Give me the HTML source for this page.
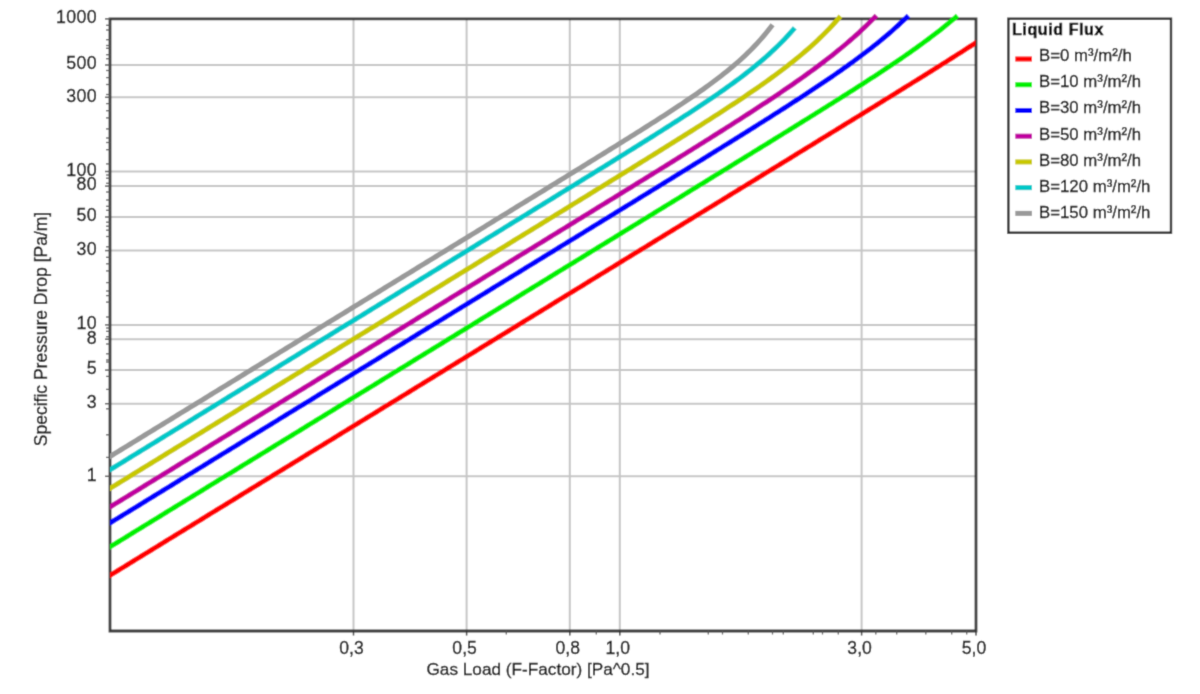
<!DOCTYPE html><html><head><meta charset="utf-8"><style>html,body{margin:0;padding:0;background:#fff;width:1200px;height:694px;overflow:hidden}svg{display:block}text{font-family:"Liberation Sans",sans-serif;stroke:#000;stroke-width:0.3px}</style></head><body>
<svg width="1200" height="694" viewBox="0 0 1200 694">
<defs><filter id="bl" x="0" y="0" width="1200" height="694" filterUnits="userSpaceOnUse"><feConvolveMatrix order="3" kernelMatrix="0.0225 0.1050 0.0225 0.1050 0.4900 0.1050 0.0225 0.1050 0.0225" edgeMode="duplicate"/></filter></defs><g filter="url(#bl)">
<rect x="0" y="0" width="1200" height="694" fill="#fff"/>
<line x1="110.0" y1="65.00" x2="976.0" y2="65.00" stroke="#c6c6c6" stroke-width="2.0"/>
<line x1="110.0" y1="97.30" x2="976.0" y2="97.30" stroke="#c6c6c6" stroke-width="2.0"/>
<line x1="110.0" y1="171.50" x2="976.0" y2="171.50" stroke="#c6c6c6" stroke-width="2.0"/>
<line x1="110.0" y1="186.10" x2="976.0" y2="186.10" stroke="#c6c6c6" stroke-width="2.0"/>
<line x1="110.0" y1="217.00" x2="976.0" y2="217.00" stroke="#c6c6c6" stroke-width="2.0"/>
<line x1="110.0" y1="250.60" x2="976.0" y2="250.60" stroke="#c6c6c6" stroke-width="2.0"/>
<line x1="110.0" y1="324.90" x2="976.0" y2="324.90" stroke="#c6c6c6" stroke-width="2.0"/>
<line x1="110.0" y1="339.20" x2="976.0" y2="339.20" stroke="#c6c6c6" stroke-width="2.0"/>
<line x1="110.0" y1="370.10" x2="976.0" y2="370.10" stroke="#c6c6c6" stroke-width="2.0"/>
<line x1="110.0" y1="403.70" x2="976.0" y2="403.70" stroke="#c6c6c6" stroke-width="2.0"/>
<line x1="110.0" y1="476.30" x2="976.0" y2="476.30" stroke="#c6c6c6" stroke-width="2.0"/>
<line x1="353.50" y1="18.9" x2="353.50" y2="631.0" stroke="#c6c6c6" stroke-width="2.0"/>
<line x1="466.60" y1="18.9" x2="466.60" y2="631.0" stroke="#c6c6c6" stroke-width="2.0"/>
<line x1="569.80" y1="18.9" x2="569.80" y2="631.0" stroke="#c6c6c6" stroke-width="2.0"/>
<line x1="619.80" y1="18.9" x2="619.80" y2="631.0" stroke="#c6c6c6" stroke-width="2.0"/>
<line x1="861.60" y1="18.9" x2="861.60" y2="631.0" stroke="#c6c6c6" stroke-width="2.0"/>
<path d="M110.0 18.9 H976.0 V631.0 H110.0 Z" fill="none" stroke="#383838" stroke-width="2.8"/>
<line x1="105.0" y1="18.90" x2="110.0" y2="18.90" stroke="#5a5a5a" stroke-width="1.5"/>
<line x1="105.0" y1="65.00" x2="110.0" y2="65.00" stroke="#5a5a5a" stroke-width="1.5"/>
<line x1="105.0" y1="97.30" x2="110.0" y2="97.30" stroke="#5a5a5a" stroke-width="1.5"/>
<line x1="105.0" y1="171.50" x2="110.0" y2="171.50" stroke="#5a5a5a" stroke-width="1.5"/>
<line x1="105.0" y1="186.10" x2="110.0" y2="186.10" stroke="#5a5a5a" stroke-width="1.5"/>
<line x1="105.0" y1="217.00" x2="110.0" y2="217.00" stroke="#5a5a5a" stroke-width="1.5"/>
<line x1="105.0" y1="250.60" x2="110.0" y2="250.60" stroke="#5a5a5a" stroke-width="1.5"/>
<line x1="105.0" y1="324.90" x2="110.0" y2="324.90" stroke="#5a5a5a" stroke-width="1.5"/>
<line x1="105.0" y1="339.20" x2="110.0" y2="339.20" stroke="#5a5a5a" stroke-width="1.5"/>
<line x1="105.0" y1="370.10" x2="110.0" y2="370.10" stroke="#5a5a5a" stroke-width="1.5"/>
<line x1="105.0" y1="403.70" x2="110.0" y2="403.70" stroke="#5a5a5a" stroke-width="1.5"/>
<line x1="105.0" y1="476.30" x2="110.0" y2="476.30" stroke="#5a5a5a" stroke-width="1.5"/>
<line x1="106.0" y1="25.30" x2="110.0" y2="25.30" stroke="#5a5a5a" stroke-width="1.3"/>
<line x1="106.0" y1="30.00" x2="110.0" y2="30.00" stroke="#5a5a5a" stroke-width="1.3"/>
<line x1="106.0" y1="39.70" x2="110.0" y2="39.70" stroke="#5a5a5a" stroke-width="1.3"/>
<line x1="106.0" y1="45.50" x2="110.0" y2="45.50" stroke="#5a5a5a" stroke-width="1.3"/>
<line x1="106.0" y1="48.30" x2="110.0" y2="48.30" stroke="#5a5a5a" stroke-width="1.3"/>
<line x1="106.0" y1="54.70" x2="110.0" y2="54.70" stroke="#5a5a5a" stroke-width="1.3"/>
<line x1="106.0" y1="58.70" x2="110.0" y2="58.70" stroke="#5a5a5a" stroke-width="1.3"/>
<line x1="106.0" y1="70.50" x2="110.0" y2="70.50" stroke="#5a5a5a" stroke-width="1.3"/>
<line x1="106.0" y1="77.60" x2="110.0" y2="77.60" stroke="#5a5a5a" stroke-width="1.3"/>
<line x1="106.0" y1="84.50" x2="110.0" y2="84.50" stroke="#5a5a5a" stroke-width="1.3"/>
<line x1="106.0" y1="94.50" x2="110.0" y2="94.50" stroke="#5a5a5a" stroke-width="1.3"/>
<line x1="106.0" y1="103.60" x2="110.0" y2="103.60" stroke="#5a5a5a" stroke-width="1.3"/>
<line x1="106.0" y1="110.70" x2="110.0" y2="110.70" stroke="#5a5a5a" stroke-width="1.3"/>
<line x1="106.0" y1="117.90" x2="110.0" y2="117.90" stroke="#5a5a5a" stroke-width="1.3"/>
<line x1="106.0" y1="128.90" x2="110.0" y2="128.90" stroke="#5a5a5a" stroke-width="1.3"/>
<line x1="106.0" y1="138.00" x2="110.0" y2="138.00" stroke="#5a5a5a" stroke-width="1.3"/>
<line x1="106.0" y1="142.50" x2="110.0" y2="142.50" stroke="#5a5a5a" stroke-width="1.3"/>
<line x1="106.0" y1="149.70" x2="110.0" y2="149.70" stroke="#5a5a5a" stroke-width="1.3"/>
<line x1="106.0" y1="163.90" x2="110.0" y2="163.90" stroke="#5a5a5a" stroke-width="1.3"/>
<line x1="106.0" y1="175.00" x2="110.0" y2="175.00" stroke="#5a5a5a" stroke-width="1.3"/>
<line x1="106.0" y1="178.20" x2="110.0" y2="178.20" stroke="#5a5a5a" stroke-width="1.3"/>
<line x1="106.0" y1="183.30" x2="110.0" y2="183.30" stroke="#5a5a5a" stroke-width="1.3"/>
<line x1="106.0" y1="192.00" x2="110.0" y2="192.00" stroke="#5a5a5a" stroke-width="1.3"/>
<line x1="106.0" y1="200.00" x2="110.0" y2="200.00" stroke="#5a5a5a" stroke-width="1.3"/>
<line x1="106.0" y1="206.30" x2="110.0" y2="206.30" stroke="#5a5a5a" stroke-width="1.3"/>
<line x1="106.0" y1="210.30" x2="110.0" y2="210.30" stroke="#5a5a5a" stroke-width="1.3"/>
<line x1="106.0" y1="222.20" x2="110.0" y2="222.20" stroke="#5a5a5a" stroke-width="1.3"/>
<line x1="106.0" y1="226.20" x2="110.0" y2="226.20" stroke="#5a5a5a" stroke-width="1.3"/>
<line x1="106.0" y1="230.20" x2="110.0" y2="230.20" stroke="#5a5a5a" stroke-width="1.3"/>
<line x1="106.0" y1="236.50" x2="110.0" y2="236.50" stroke="#5a5a5a" stroke-width="1.3"/>
<line x1="106.0" y1="246.80" x2="110.0" y2="246.80" stroke="#5a5a5a" stroke-width="1.3"/>
<line x1="106.0" y1="257.30" x2="110.0" y2="257.30" stroke="#5a5a5a" stroke-width="1.3"/>
<line x1="106.0" y1="263.80" x2="110.0" y2="263.80" stroke="#5a5a5a" stroke-width="1.3"/>
<line x1="106.0" y1="270.90" x2="110.0" y2="270.90" stroke="#5a5a5a" stroke-width="1.3"/>
<line x1="106.0" y1="282.60" x2="110.0" y2="282.60" stroke="#5a5a5a" stroke-width="1.3"/>
<line x1="106.0" y1="291.00" x2="110.0" y2="291.00" stroke="#5a5a5a" stroke-width="1.3"/>
<line x1="106.0" y1="295.60" x2="110.0" y2="295.60" stroke="#5a5a5a" stroke-width="1.3"/>
<line x1="106.0" y1="302.10" x2="110.0" y2="302.10" stroke="#5a5a5a" stroke-width="1.3"/>
<line x1="106.0" y1="317.00" x2="110.0" y2="317.00" stroke="#5a5a5a" stroke-width="1.3"/>
<line x1="106.0" y1="328.00" x2="110.0" y2="328.00" stroke="#5a5a5a" stroke-width="1.3"/>
<line x1="106.0" y1="331.30" x2="110.0" y2="331.30" stroke="#5a5a5a" stroke-width="1.3"/>
<line x1="106.0" y1="336.70" x2="110.0" y2="336.70" stroke="#5a5a5a" stroke-width="1.3"/>
<line x1="106.0" y1="344.00" x2="110.0" y2="344.00" stroke="#5a5a5a" stroke-width="1.3"/>
<line x1="106.0" y1="353.80" x2="110.0" y2="353.80" stroke="#5a5a5a" stroke-width="1.3"/>
<line x1="106.0" y1="360.00" x2="110.0" y2="360.00" stroke="#5a5a5a" stroke-width="1.3"/>
<line x1="106.0" y1="362.00" x2="110.0" y2="362.00" stroke="#5a5a5a" stroke-width="1.3"/>
<line x1="106.0" y1="376.40" x2="110.0" y2="376.40" stroke="#5a5a5a" stroke-width="1.3"/>
<line x1="106.0" y1="389.40" x2="110.0" y2="389.40" stroke="#5a5a5a" stroke-width="1.3"/>
<line x1="106.0" y1="408.80" x2="110.0" y2="408.80" stroke="#5a5a5a" stroke-width="1.3"/>
<line x1="106.0" y1="434.80" x2="110.0" y2="434.80" stroke="#5a5a5a" stroke-width="1.3"/>
<line x1="106.0" y1="457.40" x2="110.0" y2="457.40" stroke="#5a5a5a" stroke-width="1.3"/>
<line x1="353.50" y1="631.0" x2="353.50" y2="635.5" stroke="#383838" stroke-width="1.5"/>
<line x1="466.60" y1="631.0" x2="466.60" y2="635.5" stroke="#383838" stroke-width="1.5"/>
<line x1="569.80" y1="631.0" x2="569.80" y2="635.5" stroke="#383838" stroke-width="1.5"/>
<line x1="619.80" y1="631.0" x2="619.80" y2="635.5" stroke="#383838" stroke-width="1.5"/>
<line x1="861.60" y1="631.0" x2="861.60" y2="635.5" stroke="#383838" stroke-width="1.5"/>
<line x1="976.00" y1="631.0" x2="976.00" y2="635.5" stroke="#383838" stroke-width="1.5"/>
<line x1="506.30" y1="631.0" x2="506.30" y2="634.5" stroke="#5a5a5a" stroke-width="1.3"/>
<line x1="596.30" y1="631.0" x2="596.30" y2="634.5" stroke="#5a5a5a" stroke-width="1.3"/>
<line x1="660.00" y1="631.0" x2="660.00" y2="634.5" stroke="#5a5a5a" stroke-width="1.3"/>
<line x1="708.30" y1="631.0" x2="708.30" y2="634.5" stroke="#5a5a5a" stroke-width="1.3"/>
<line x1="722.50" y1="631.0" x2="722.50" y2="634.5" stroke="#5a5a5a" stroke-width="1.3"/>
<line x1="748.30" y1="631.0" x2="748.30" y2="634.5" stroke="#5a5a5a" stroke-width="1.3"/>
<line x1="772.50" y1="631.0" x2="772.50" y2="634.5" stroke="#5a5a5a" stroke-width="1.3"/>
<line x1="783.30" y1="631.0" x2="783.30" y2="634.5" stroke="#5a5a5a" stroke-width="1.3"/>
<line x1="813.30" y1="631.0" x2="813.30" y2="634.5" stroke="#5a5a5a" stroke-width="1.3"/>
<line x1="822.50" y1="631.0" x2="822.50" y2="634.5" stroke="#5a5a5a" stroke-width="1.3"/>
<line x1="838.30" y1="631.0" x2="838.30" y2="634.5" stroke="#5a5a5a" stroke-width="1.3"/>
<line x1="875.80" y1="631.0" x2="875.80" y2="634.5" stroke="#5a5a5a" stroke-width="1.3"/>
<line x1="896.70" y1="631.0" x2="896.70" y2="634.5" stroke="#5a5a5a" stroke-width="1.3"/>
<line x1="925.80" y1="631.0" x2="925.80" y2="634.5" stroke="#5a5a5a" stroke-width="1.3"/>
<line x1="951.70" y1="631.0" x2="951.70" y2="634.5" stroke="#5a5a5a" stroke-width="1.3"/>
<line x1="966.70" y1="631.0" x2="966.70" y2="634.5" stroke="#5a5a5a" stroke-width="1.3"/>
<defs><clipPath id="pc"><rect x="110" y="0" width="865.6" height="631"/></clipPath></defs><g clip-path="url(#pc)">
<polyline points="106.0,577.85 109.0,576.01 112.0,574.17 115.0,572.33 118.0,570.49 121.0,568.65 124.0,566.81 127.0,564.97 130.0,563.13 133.0,561.29 136.0,559.45 139.0,557.61 142.0,555.77 145.0,553.93 148.0,552.09 151.0,550.25 154.0,548.41 157.0,546.57 160.0,544.72 163.0,542.88 166.0,541.04 169.0,539.20 172.0,537.36 175.0,535.52 178.0,533.68 181.0,531.84 184.0,530.00 187.0,528.16 190.0,526.32 193.0,524.48 196.0,522.64 199.0,520.80 202.0,518.96 205.0,517.12 208.0,515.28 211.0,513.44 214.0,511.60 217.0,509.76 220.0,507.91 223.0,506.07 226.0,504.23 229.0,502.39 232.0,500.55 235.0,498.71 238.0,496.87 241.0,495.03 244.0,493.19 247.0,491.35 250.0,489.51 253.0,487.67 256.0,485.83 259.0,483.99 262.0,482.15 265.0,480.31 268.0,478.47 271.0,476.63 274.0,474.79 277.0,472.95 280.0,471.10 283.0,469.26 286.0,467.42 289.0,465.58 292.0,463.74 295.0,461.90 298.0,460.06 301.0,458.22 304.0,456.38 307.0,454.54 310.0,452.70 313.0,450.86 316.0,449.02 319.0,447.18 322.0,445.34 325.0,443.50 328.0,441.66 331.0,439.82 334.0,437.98 337.0,436.14 340.0,434.29 343.0,432.45 346.0,430.61 349.0,428.77 352.0,426.93 355.0,425.09 358.0,423.25 361.0,421.41 364.0,419.57 367.0,417.73 370.0,415.89 373.0,414.05 376.0,412.21 379.0,410.37 382.0,408.53 385.0,406.69 388.0,404.85 391.0,403.01 394.0,401.17 397.0,399.33 400.0,397.48 403.0,395.64 406.0,393.80 409.0,391.96 412.0,390.12 415.0,388.28 418.0,386.44 421.0,384.60 424.0,382.76 427.0,380.92 430.0,379.08 433.0,377.24 436.0,375.40 439.0,373.56 442.0,371.72 445.0,369.88 448.0,368.04 451.0,366.20 454.0,364.36 457.0,362.52 460.0,360.67 463.0,358.83 466.0,356.99 469.0,355.15 472.0,353.31 475.0,351.47 478.0,349.63 481.0,347.79 484.0,345.95 487.0,344.11 490.0,342.27 493.0,340.43 496.0,338.59 499.0,336.75 502.0,334.91 505.0,333.07 508.0,331.23 511.0,329.39 514.0,327.55 517.0,325.71 520.0,323.86 523.0,322.02 526.0,320.18 529.0,318.34 532.0,316.50 535.0,314.66 538.0,312.82 541.0,310.98 544.0,309.14 547.0,307.30 550.0,305.46 553.0,303.62 556.0,301.78 559.0,299.94 562.0,298.10 565.0,296.26 568.0,294.42 571.0,292.58 574.0,290.74 577.0,288.90 580.0,287.05 583.0,285.21 586.0,283.37 589.0,281.53 592.0,279.69 595.0,277.85 598.0,276.01 601.0,274.17 604.0,272.33 607.0,270.49 610.0,268.65 613.0,266.81 616.0,264.97 619.0,263.13 622.0,261.29 625.0,259.45 628.0,257.61 631.0,255.77 634.0,253.93 637.0,252.09 640.0,250.24 643.0,248.40 646.0,246.56 649.0,244.72 652.0,242.88 655.0,241.04 658.0,239.20 661.0,237.36 664.0,235.52 667.0,233.68 670.0,231.84 673.0,230.00 676.0,228.16 679.0,226.32 682.0,224.48 685.0,222.64 688.0,220.80 691.0,218.96 694.0,217.11 697.0,215.27 700.0,213.43 703.0,211.59 706.0,209.75 709.0,207.91 712.0,206.07 715.0,204.23 718.0,202.39 721.0,200.55 724.0,198.71 727.0,196.87 730.0,195.03 733.0,193.19 736.0,191.35 739.0,189.50 742.0,187.66 745.0,185.82 748.0,183.98 751.0,182.14 754.0,180.30 757.0,178.46 760.0,176.62 763.0,174.78 766.0,172.94 769.0,171.10 772.0,169.25 775.0,167.41 778.0,165.57 781.0,163.73 784.0,161.89 787.0,160.05 790.0,158.21 793.0,156.36 796.0,154.52 799.0,152.68 802.0,150.84 805.0,149.00 808.0,147.15 811.0,145.31 814.0,143.47 817.0,141.63 820.0,139.78 823.0,137.94 826.0,136.10 829.0,134.26 832.0,132.41 835.0,130.57 838.0,128.72 841.0,126.88 844.0,125.04 847.0,123.19 850.0,121.35 853.0,119.50 856.0,117.65 859.0,115.81 862.0,113.96 865.0,112.11 868.0,110.27 871.0,108.42 874.0,106.57 877.0,104.72 880.0,102.87 883.0,101.02 886.0,99.17 889.0,97.31 892.0,95.46 895.0,93.60 898.0,91.75 901.0,89.89 904.0,88.03 907.0,86.17 910.0,84.31 913.0,82.45 916.0,80.58 919.0,78.72 922.0,76.85 925.0,74.98 928.0,73.11 931.0,71.23 934.0,69.35 937.0,67.47 940.0,65.59 943.0,63.70 946.0,61.81 949.0,59.91 952.0,58.01 955.0,56.11 958.0,54.20 961.0,52.28 964.0,50.36 967.0,48.43 970.0,46.50 973.0,44.56 976.0,42.61 978.0,41.31" fill="none" stroke="#ff0000" stroke-width="5.1" stroke-linejoin="round"/>
<polyline points="106.0,549.35 109.0,547.51 112.0,545.67 115.0,543.83 118.0,541.99 121.0,540.15 124.0,538.31 127.0,536.47 130.0,534.63 133.0,532.79 136.0,530.95 139.0,529.11 142.0,527.27 145.0,525.43 148.0,523.59 151.0,521.75 154.0,519.91 157.0,518.07 160.0,516.22 163.0,514.38 166.0,512.54 169.0,510.70 172.0,508.86 175.0,507.02 178.0,505.18 181.0,503.34 184.0,501.50 187.0,499.66 190.0,497.82 193.0,495.98 196.0,494.14 199.0,492.30 202.0,490.46 205.0,488.62 208.0,486.78 211.0,484.94 214.0,483.10 217.0,481.26 220.0,479.41 223.0,477.57 226.0,475.73 229.0,473.89 232.0,472.05 235.0,470.21 238.0,468.37 241.0,466.53 244.0,464.69 247.0,462.85 250.0,461.01 253.0,459.17 256.0,457.33 259.0,455.49 262.0,453.65 265.0,451.81 268.0,449.97 271.0,448.13 274.0,446.29 277.0,444.45 280.0,442.60 283.0,440.76 286.0,438.92 289.0,437.08 292.0,435.24 295.0,433.40 298.0,431.56 301.0,429.72 304.0,427.88 307.0,426.04 310.0,424.20 313.0,422.36 316.0,420.52 319.0,418.68 322.0,416.84 325.0,415.00 328.0,413.16 331.0,411.32 334.0,409.48 337.0,407.64 340.0,405.79 343.0,403.95 346.0,402.11 349.0,400.27 352.0,398.43 355.0,396.59 358.0,394.75 361.0,392.91 364.0,391.07 367.0,389.23 370.0,387.39 373.0,385.55 376.0,383.71 379.0,381.87 382.0,380.03 385.0,378.19 388.0,376.35 391.0,374.51 394.0,372.67 397.0,370.83 400.0,368.98 403.0,367.14 406.0,365.30 409.0,363.46 412.0,361.62 415.0,359.78 418.0,357.94 421.0,356.10 424.0,354.26 427.0,352.42 430.0,350.58 433.0,348.74 436.0,346.90 439.0,345.06 442.0,343.22 445.0,341.38 448.0,339.54 451.0,337.70 454.0,335.86 457.0,334.02 460.0,332.17 463.0,330.33 466.0,328.49 469.0,326.65 472.0,324.81 475.0,322.97 478.0,321.13 481.0,319.29 484.0,317.45 487.0,315.61 490.0,313.77 493.0,311.93 496.0,310.09 499.0,308.25 502.0,306.41 505.0,304.57 508.0,302.73 511.0,300.89 514.0,299.05 517.0,297.21 520.0,295.36 523.0,293.52 526.0,291.68 529.0,289.84 532.0,288.00 535.0,286.16 538.0,284.32 541.0,282.48 544.0,280.64 547.0,278.80 550.0,276.96 553.0,275.12 556.0,273.28 559.0,271.44 562.0,269.60 565.0,267.76 568.0,265.92 571.0,264.07 574.0,262.23 577.0,260.39 580.0,258.55 583.0,256.71 586.0,254.87 589.0,253.03 592.0,251.19 595.0,249.35 598.0,247.51 601.0,245.67 604.0,243.83 607.0,241.99 610.0,240.15 613.0,238.31 616.0,236.46 619.0,234.62 622.0,232.78 625.0,230.94 628.0,229.10 631.0,227.26 634.0,225.42 637.0,223.58 640.0,221.74 643.0,219.90 646.0,218.06 649.0,216.21 652.0,214.37 655.0,212.53 658.0,210.69 661.0,208.85 664.0,207.01 667.0,205.17 670.0,203.32 673.0,201.48 676.0,199.64 679.0,197.80 682.0,195.96 685.0,194.12 688.0,192.27 691.0,190.43 694.0,188.59 697.0,186.75 700.0,184.90 703.0,183.06 706.0,181.22 709.0,179.38 712.0,177.53 715.0,175.69 718.0,173.85 721.0,172.00 724.0,170.16 727.0,168.31 730.0,166.47 733.0,164.62 736.0,162.78 739.0,160.93 742.0,159.09 745.0,157.24 748.0,155.40 751.0,153.55 754.0,151.70 757.0,149.85 760.0,148.00 763.0,146.16 766.0,144.31 769.0,142.46 772.0,140.60 775.0,138.75 778.0,136.90 781.0,135.05 784.0,133.19 787.0,131.34 790.0,129.48 793.0,127.62 796.0,125.76 799.0,123.90 802.0,122.04 805.0,120.18 808.0,118.31 811.0,116.45 814.0,114.58 817.0,112.71 820.0,110.84 823.0,108.96 826.0,107.09 829.0,105.21 832.0,103.32 835.0,101.44 838.0,99.55 841.0,97.66 844.0,95.76 847.0,93.86 850.0,91.96 853.0,90.05 856.0,88.13 859.0,86.22 862.0,84.29 865.0,82.36 868.0,80.43 871.0,78.48 874.0,76.53 877.0,74.57 880.0,72.61 883.0,70.63 886.0,68.64 889.0,66.65 892.0,64.64 895.0,62.62 898.0,60.59 901.0,58.54 904.0,56.48 907.0,54.41 910.0,52.31 913.0,50.20 916.0,48.07 919.0,45.92 922.0,43.75 925.0,41.55 928.0,39.33 931.0,37.08 934.0,34.80 937.0,32.49 940.0,30.15 943.0,27.77 946.0,25.35 949.0,22.89 952.0,20.39 955.0,17.84 957.5,15.68" fill="none" stroke="#00f000" stroke-width="5.1" stroke-linejoin="round"/>
<polyline points="106.0,525.45 109.0,523.61 112.0,521.77 115.0,519.93 118.0,518.09 121.0,516.25 124.0,514.41 127.0,512.57 130.0,510.73 133.0,508.89 136.0,507.05 139.0,505.21 142.0,503.37 145.0,501.53 148.0,499.69 151.0,497.85 154.0,496.01 157.0,494.17 160.0,492.32 163.0,490.48 166.0,488.64 169.0,486.80 172.0,484.96 175.0,483.12 178.0,481.28 181.0,479.44 184.0,477.60 187.0,475.76 190.0,473.92 193.0,472.08 196.0,470.24 199.0,468.40 202.0,466.56 205.0,464.72 208.0,462.88 211.0,461.04 214.0,459.20 217.0,457.36 220.0,455.51 223.0,453.67 226.0,451.83 229.0,449.99 232.0,448.15 235.0,446.31 238.0,444.47 241.0,442.63 244.0,440.79 247.0,438.95 250.0,437.11 253.0,435.27 256.0,433.43 259.0,431.59 262.0,429.75 265.0,427.91 268.0,426.07 271.0,424.23 274.0,422.39 277.0,420.55 280.0,418.70 283.0,416.86 286.0,415.02 289.0,413.18 292.0,411.34 295.0,409.50 298.0,407.66 301.0,405.82 304.0,403.98 307.0,402.14 310.0,400.30 313.0,398.46 316.0,396.62 319.0,394.78 322.0,392.94 325.0,391.10 328.0,389.26 331.0,387.42 334.0,385.58 337.0,383.74 340.0,381.89 343.0,380.05 346.0,378.21 349.0,376.37 352.0,374.53 355.0,372.69 358.0,370.85 361.0,369.01 364.0,367.17 367.0,365.33 370.0,363.49 373.0,361.65 376.0,359.81 379.0,357.97 382.0,356.13 385.0,354.29 388.0,352.45 391.0,350.61 394.0,348.77 397.0,346.93 400.0,345.08 403.0,343.24 406.0,341.40 409.0,339.56 412.0,337.72 415.0,335.88 418.0,334.04 421.0,332.20 424.0,330.36 427.0,328.52 430.0,326.68 433.0,324.84 436.0,323.00 439.0,321.16 442.0,319.32 445.0,317.48 448.0,315.64 451.0,313.80 454.0,311.95 457.0,310.11 460.0,308.27 463.0,306.43 466.0,304.59 469.0,302.75 472.0,300.91 475.0,299.07 478.0,297.23 481.0,295.39 484.0,293.55 487.0,291.71 490.0,289.87 493.0,288.03 496.0,286.19 499.0,284.35 502.0,282.50 505.0,280.66 508.0,278.82 511.0,276.98 514.0,275.14 517.0,273.30 520.0,271.46 523.0,269.62 526.0,267.78 529.0,265.94 532.0,264.10 535.0,262.26 538.0,260.41 541.0,258.57 544.0,256.73 547.0,254.89 550.0,253.05 553.0,251.21 556.0,249.37 559.0,247.53 562.0,245.69 565.0,243.84 568.0,242.00 571.0,240.16 574.0,238.32 577.0,236.48 580.0,234.64 583.0,232.80 586.0,230.95 589.0,229.11 592.0,227.27 595.0,225.43 598.0,223.59 601.0,221.74 604.0,219.90 607.0,218.06 610.0,216.22 613.0,214.38 616.0,212.53 619.0,210.69 622.0,208.85 625.0,207.00 628.0,205.16 631.0,203.32 634.0,201.47 637.0,199.63 640.0,197.78 643.0,195.94 646.0,194.09 649.0,192.25 652.0,190.40 655.0,188.56 658.0,186.71 661.0,184.87 664.0,183.02 667.0,181.17 670.0,179.33 673.0,177.48 676.0,175.63 679.0,173.78 682.0,171.93 685.0,170.08 688.0,168.23 691.0,166.38 694.0,164.53 697.0,162.67 700.0,160.82 703.0,158.96 706.0,157.11 709.0,155.25 712.0,153.40 715.0,151.54 718.0,149.68 721.0,147.82 724.0,145.95 727.0,144.09 730.0,142.22 733.0,140.36 736.0,138.49 739.0,136.62 742.0,134.74 745.0,132.87 748.0,130.99 751.0,129.11 754.0,127.23 757.0,125.35 760.0,123.46 763.0,121.57 766.0,119.68 769.0,117.78 772.0,115.88 775.0,113.97 778.0,112.06 781.0,110.15 784.0,108.23 787.0,106.31 790.0,104.38 793.0,102.45 796.0,100.50 799.0,98.56 802.0,96.60 805.0,94.64 808.0,92.67 811.0,90.69 814.0,88.71 817.0,86.71 820.0,84.70 823.0,82.69 826.0,80.66 829.0,78.61 832.0,76.56 835.0,74.49 838.0,72.41 841.0,70.31 844.0,68.19 847.0,66.06 850.0,63.90 853.0,61.73 856.0,59.53 859.0,57.31 862.0,55.07 865.0,52.80 868.0,50.50 871.0,48.17 874.0,45.81 877.0,43.42 880.0,40.99 883.0,38.52 886.0,36.01 889.0,33.45 892.0,30.85 895.0,28.20 898.0,25.50 901.0,22.74 904.0,19.92 907.0,17.04 908.5,15.57" fill="none" stroke="#0000ff" stroke-width="5.1" stroke-linejoin="round"/>
<polyline points="106.0,509.45 109.0,507.61 112.0,505.77 115.0,503.93 118.0,502.09 121.0,500.25 124.0,498.41 127.0,496.57 130.0,494.73 133.0,492.89 136.0,491.05 139.0,489.21 142.0,487.37 145.0,485.53 148.0,483.69 151.0,481.85 154.0,480.01 157.0,478.17 160.0,476.32 163.0,474.48 166.0,472.64 169.0,470.80 172.0,468.96 175.0,467.12 178.0,465.28 181.0,463.44 184.0,461.60 187.0,459.76 190.0,457.92 193.0,456.08 196.0,454.24 199.0,452.40 202.0,450.56 205.0,448.72 208.0,446.88 211.0,445.04 214.0,443.20 217.0,441.36 220.0,439.51 223.0,437.67 226.0,435.83 229.0,433.99 232.0,432.15 235.0,430.31 238.0,428.47 241.0,426.63 244.0,424.79 247.0,422.95 250.0,421.11 253.0,419.27 256.0,417.43 259.0,415.59 262.0,413.75 265.0,411.91 268.0,410.07 271.0,408.23 274.0,406.39 277.0,404.55 280.0,402.70 283.0,400.86 286.0,399.02 289.0,397.18 292.0,395.34 295.0,393.50 298.0,391.66 301.0,389.82 304.0,387.98 307.0,386.14 310.0,384.30 313.0,382.46 316.0,380.62 319.0,378.78 322.0,376.94 325.0,375.10 328.0,373.26 331.0,371.42 334.0,369.58 337.0,367.74 340.0,365.89 343.0,364.05 346.0,362.21 349.0,360.37 352.0,358.53 355.0,356.69 358.0,354.85 361.0,353.01 364.0,351.17 367.0,349.33 370.0,347.49 373.0,345.65 376.0,343.81 379.0,341.97 382.0,340.13 385.0,338.29 388.0,336.45 391.0,334.61 394.0,332.76 397.0,330.92 400.0,329.08 403.0,327.24 406.0,325.40 409.0,323.56 412.0,321.72 415.0,319.88 418.0,318.04 421.0,316.20 424.0,314.36 427.0,312.52 430.0,310.68 433.0,308.84 436.0,307.00 439.0,305.16 442.0,303.31 445.0,301.47 448.0,299.63 451.0,297.79 454.0,295.95 457.0,294.11 460.0,292.27 463.0,290.43 466.0,288.59 469.0,286.75 472.0,284.91 475.0,283.07 478.0,281.23 481.0,279.38 484.0,277.54 487.0,275.70 490.0,273.86 493.0,272.02 496.0,270.18 499.0,268.34 502.0,266.50 505.0,264.66 508.0,262.81 511.0,260.97 514.0,259.13 517.0,257.29 520.0,255.45 523.0,253.61 526.0,251.77 529.0,249.92 532.0,248.08 535.0,246.24 538.0,244.40 541.0,242.56 544.0,240.72 547.0,238.87 550.0,237.03 553.0,235.19 556.0,233.35 559.0,231.50 562.0,229.66 565.0,227.82 568.0,225.98 571.0,224.13 574.0,222.29 577.0,220.45 580.0,218.60 583.0,216.76 586.0,214.91 589.0,213.07 592.0,211.23 595.0,209.38 598.0,207.54 601.0,205.69 604.0,203.85 607.0,202.00 610.0,200.15 613.0,198.31 616.0,196.46 619.0,194.61 622.0,192.76 625.0,190.92 628.0,189.07 631.0,187.22 634.0,185.37 637.0,183.52 640.0,181.67 643.0,179.82 646.0,177.96 649.0,176.11 652.0,174.26 655.0,172.40 658.0,170.55 661.0,168.69 664.0,166.83 667.0,164.97 670.0,163.11 673.0,161.25 676.0,159.39 679.0,157.53 682.0,155.66 685.0,153.80 688.0,151.93 691.0,150.06 694.0,148.19 697.0,146.31 700.0,144.44 703.0,142.56 706.0,140.68 709.0,138.79 712.0,136.91 715.0,135.02 718.0,133.13 721.0,131.24 724.0,129.34 727.0,127.44 730.0,125.53 733.0,123.62 736.0,121.71 739.0,119.79 742.0,117.87 745.0,115.94 748.0,114.00 751.0,112.06 754.0,110.12 757.0,108.17 760.0,106.21 763.0,104.24 766.0,102.27 769.0,100.28 772.0,98.29 775.0,96.29 778.0,94.28 781.0,92.25 784.0,90.22 787.0,88.17 790.0,86.12 793.0,84.04 796.0,81.96 799.0,79.85 802.0,77.74 805.0,75.60 808.0,73.44 811.0,71.27 814.0,69.07 817.0,66.86 820.0,64.62 823.0,62.35 826.0,60.06 829.0,57.74 832.0,55.38 835.0,53.00 838.0,50.58 841.0,48.13 844.0,45.64 847.0,43.11 850.0,40.53 853.0,37.91 856.0,35.24 859.0,32.52 862.0,29.74 865.0,26.90 868.0,24.00 871.0,21.04 874.0,18.00 876.5,15.41" fill="none" stroke="#c000a0" stroke-width="5.1" stroke-linejoin="round"/>
<polyline points="106.0,490.85 109.0,489.01 112.0,487.17 115.0,485.33 118.0,483.49 121.0,481.65 124.0,479.81 127.0,477.97 130.0,476.13 133.0,474.29 136.0,472.45 139.0,470.61 142.0,468.77 145.0,466.93 148.0,465.09 151.0,463.25 154.0,461.41 157.0,459.57 160.0,457.72 163.0,455.88 166.0,454.04 169.0,452.20 172.0,450.36 175.0,448.52 178.0,446.68 181.0,444.84 184.0,443.00 187.0,441.16 190.0,439.32 193.0,437.48 196.0,435.64 199.0,433.80 202.0,431.96 205.0,430.12 208.0,428.28 211.0,426.44 214.0,424.60 217.0,422.76 220.0,420.91 223.0,419.07 226.0,417.23 229.0,415.39 232.0,413.55 235.0,411.71 238.0,409.87 241.0,408.03 244.0,406.19 247.0,404.35 250.0,402.51 253.0,400.67 256.0,398.83 259.0,396.99 262.0,395.15 265.0,393.31 268.0,391.47 271.0,389.63 274.0,387.79 277.0,385.95 280.0,384.10 283.0,382.26 286.0,380.42 289.0,378.58 292.0,376.74 295.0,374.90 298.0,373.06 301.0,371.22 304.0,369.38 307.0,367.54 310.0,365.70 313.0,363.86 316.0,362.02 319.0,360.18 322.0,358.34 325.0,356.50 328.0,354.66 331.0,352.82 334.0,350.98 337.0,349.14 340.0,347.29 343.0,345.45 346.0,343.61 349.0,341.77 352.0,339.93 355.0,338.09 358.0,336.25 361.0,334.41 364.0,332.57 367.0,330.73 370.0,328.89 373.0,327.05 376.0,325.21 379.0,323.37 382.0,321.53 385.0,319.69 388.0,317.85 391.0,316.01 394.0,314.17 397.0,312.32 400.0,310.48 403.0,308.64 406.0,306.80 409.0,304.96 412.0,303.12 415.0,301.28 418.0,299.44 421.0,297.60 424.0,295.76 427.0,293.92 430.0,292.08 433.0,290.24 436.0,288.40 439.0,286.56 442.0,284.72 445.0,282.88 448.0,281.03 451.0,279.19 454.0,277.35 457.0,275.51 460.0,273.67 463.0,271.83 466.0,269.99 469.0,268.15 472.0,266.31 475.0,264.47 478.0,262.63 481.0,260.79 484.0,258.95 487.0,257.10 490.0,255.26 493.0,253.42 496.0,251.58 499.0,249.74 502.0,247.90 505.0,246.06 508.0,244.22 511.0,242.38 514.0,240.53 517.0,238.69 520.0,236.85 523.0,235.01 526.0,233.17 529.0,231.33 532.0,229.49 535.0,227.64 538.0,225.80 541.0,223.96 544.0,222.12 547.0,220.28 550.0,218.43 553.0,216.59 556.0,214.75 559.0,212.91 562.0,211.06 565.0,209.22 568.0,207.38 571.0,205.53 574.0,203.69 577.0,201.85 580.0,200.00 583.0,198.16 586.0,196.31 589.0,194.47 592.0,192.62 595.0,190.78 598.0,188.93 601.0,187.08 604.0,185.24 607.0,183.39 610.0,181.54 613.0,179.69 616.0,177.84 619.0,175.99 622.0,174.14 625.0,172.29 628.0,170.44 631.0,168.59 634.0,166.74 637.0,164.88 640.0,163.03 643.0,161.17 646.0,159.31 649.0,157.45 652.0,155.59 655.0,153.73 658.0,151.87 661.0,150.00 664.0,148.14 667.0,146.27 670.0,144.40 673.0,142.52 676.0,140.65 679.0,138.77 682.0,136.89 685.0,135.01 688.0,133.12 691.0,131.23 694.0,129.34 697.0,127.44 700.0,125.54 703.0,123.63 706.0,121.72 709.0,119.81 712.0,117.89 715.0,115.96 718.0,114.03 721.0,112.09 724.0,110.14 727.0,108.19 730.0,106.22 733.0,104.25 736.0,102.27 739.0,100.28 742.0,98.28 745.0,96.26 748.0,94.23 751.0,92.19 754.0,90.14 757.0,88.07 760.0,85.98 763.0,83.87 766.0,81.75 769.0,79.60 772.0,77.43 775.0,75.24 778.0,73.02 781.0,70.78 784.0,68.50 787.0,66.20 790.0,63.86 793.0,61.48 796.0,59.06 799.0,56.61 802.0,54.10 805.0,51.55 808.0,48.95 811.0,46.29 814.0,43.58 817.0,40.80 820.0,37.95 823.0,35.02 826.0,32.02 829.0,28.94 832.0,25.76 835.0,22.49 838.0,19.11 840.5,16.21" fill="none" stroke="#c8c800" stroke-width="5.1" stroke-linejoin="round"/>
<polyline points="106.0,472.25 109.0,470.41 112.0,468.57 115.0,466.73 118.0,464.89 121.0,463.05 124.0,461.21 127.0,459.37 130.0,457.53 133.0,455.69 136.0,453.85 139.0,452.01 142.0,450.17 145.0,448.33 148.0,446.49 151.0,444.65 154.0,442.81 157.0,440.97 160.0,439.12 163.0,437.28 166.0,435.44 169.0,433.60 172.0,431.76 175.0,429.92 178.0,428.08 181.0,426.24 184.0,424.40 187.0,422.56 190.0,420.72 193.0,418.88 196.0,417.04 199.0,415.20 202.0,413.36 205.0,411.52 208.0,409.68 211.0,407.84 214.0,406.00 217.0,404.16 220.0,402.31 223.0,400.47 226.0,398.63 229.0,396.79 232.0,394.95 235.0,393.11 238.0,391.27 241.0,389.43 244.0,387.59 247.0,385.75 250.0,383.91 253.0,382.07 256.0,380.23 259.0,378.39 262.0,376.55 265.0,374.71 268.0,372.87 271.0,371.03 274.0,369.19 277.0,367.35 280.0,365.50 283.0,363.66 286.0,361.82 289.0,359.98 292.0,358.14 295.0,356.30 298.0,354.46 301.0,352.62 304.0,350.78 307.0,348.94 310.0,347.10 313.0,345.26 316.0,343.42 319.0,341.58 322.0,339.74 325.0,337.90 328.0,336.06 331.0,334.22 334.0,332.38 337.0,330.54 340.0,328.69 343.0,326.85 346.0,325.01 349.0,323.17 352.0,321.33 355.0,319.49 358.0,317.65 361.0,315.81 364.0,313.97 367.0,312.13 370.0,310.29 373.0,308.45 376.0,306.61 379.0,304.77 382.0,302.93 385.0,301.09 388.0,299.25 391.0,297.41 394.0,295.57 397.0,293.72 400.0,291.88 403.0,290.04 406.0,288.20 409.0,286.36 412.0,284.52 415.0,282.68 418.0,280.84 421.0,279.00 424.0,277.16 427.0,275.32 430.0,273.48 433.0,271.64 436.0,269.80 439.0,267.96 442.0,266.12 445.0,264.27 448.0,262.43 451.0,260.59 454.0,258.75 457.0,256.91 460.0,255.07 463.0,253.23 466.0,251.39 469.0,249.55 472.0,247.71 475.0,245.87 478.0,244.03 481.0,242.18 484.0,240.34 487.0,238.50 490.0,236.66 493.0,234.82 496.0,232.98 499.0,231.14 502.0,229.30 505.0,227.45 508.0,225.61 511.0,223.77 514.0,221.93 517.0,220.09 520.0,218.25 523.0,216.40 526.0,214.56 529.0,212.72 532.0,210.88 535.0,209.03 538.0,207.19 541.0,205.35 544.0,203.51 547.0,201.66 550.0,199.82 553.0,197.98 556.0,196.13 559.0,194.29 562.0,192.44 565.0,190.60 568.0,188.75 571.0,186.91 574.0,185.06 577.0,183.21 580.0,181.37 583.0,179.52 586.0,177.67 589.0,175.82 592.0,173.97 595.0,172.12 598.0,170.27 601.0,168.42 604.0,166.57 607.0,164.71 610.0,162.86 613.0,161.00 616.0,159.15 619.0,157.29 622.0,155.43 625.0,153.57 628.0,151.70 631.0,149.84 634.0,147.97 637.0,146.10 640.0,144.23 643.0,142.36 646.0,140.48 649.0,138.60 652.0,136.72 655.0,134.84 658.0,132.95 661.0,131.05 664.0,129.16 667.0,127.26 670.0,125.35 673.0,123.44 676.0,121.52 679.0,119.60 682.0,117.67 685.0,115.73 688.0,113.78 691.0,111.83 694.0,109.87 697.0,107.90 700.0,105.91 703.0,103.92 706.0,101.91 709.0,99.89 712.0,97.86 715.0,95.81 718.0,93.74 721.0,91.66 724.0,89.56 727.0,87.43 730.0,85.28 733.0,83.11 736.0,80.91 739.0,78.69 742.0,76.43 745.0,74.14 748.0,71.81 751.0,69.44 754.0,67.03 757.0,64.58 760.0,62.08 763.0,59.52 766.0,56.91 769.0,54.23 772.0,51.49 775.0,48.68 778.0,45.78 781.0,42.81 784.0,39.74 787.0,36.58 790.0,33.31 793.0,29.92 794.8,27.83" fill="none" stroke="#00c8c8" stroke-width="5.1" stroke-linejoin="round"/>
<polyline points="106.0,458.95 109.0,457.11 112.0,455.27 115.0,453.43 118.0,451.59 121.0,449.75 124.0,447.91 127.0,446.07 130.0,444.23 133.0,442.39 136.0,440.55 139.0,438.71 142.0,436.87 145.0,435.03 148.0,433.19 151.0,431.35 154.0,429.51 157.0,427.67 160.0,425.82 163.0,423.98 166.0,422.14 169.0,420.30 172.0,418.46 175.0,416.62 178.0,414.78 181.0,412.94 184.0,411.10 187.0,409.26 190.0,407.42 193.0,405.58 196.0,403.74 199.0,401.90 202.0,400.06 205.0,398.22 208.0,396.38 211.0,394.54 214.0,392.70 217.0,390.86 220.0,389.01 223.0,387.17 226.0,385.33 229.0,383.49 232.0,381.65 235.0,379.81 238.0,377.97 241.0,376.13 244.0,374.29 247.0,372.45 250.0,370.61 253.0,368.77 256.0,366.93 259.0,365.09 262.0,363.25 265.0,361.41 268.0,359.57 271.0,357.73 274.0,355.89 277.0,354.05 280.0,352.20 283.0,350.36 286.0,348.52 289.0,346.68 292.0,344.84 295.0,343.00 298.0,341.16 301.0,339.32 304.0,337.48 307.0,335.64 310.0,333.80 313.0,331.96 316.0,330.12 319.0,328.28 322.0,326.44 325.0,324.60 328.0,322.76 331.0,320.92 334.0,319.08 337.0,317.24 340.0,315.39 343.0,313.55 346.0,311.71 349.0,309.87 352.0,308.03 355.0,306.19 358.0,304.35 361.0,302.51 364.0,300.67 367.0,298.83 370.0,296.99 373.0,295.15 376.0,293.31 379.0,291.47 382.0,289.63 385.0,287.79 388.0,285.95 391.0,284.11 394.0,282.27 397.0,280.43 400.0,278.58 403.0,276.74 406.0,274.90 409.0,273.06 412.0,271.22 415.0,269.38 418.0,267.54 421.0,265.70 424.0,263.86 427.0,262.02 430.0,260.18 433.0,258.34 436.0,256.50 439.0,254.66 442.0,252.82 445.0,250.98 448.0,249.13 451.0,247.29 454.0,245.45 457.0,243.61 460.0,241.77 463.0,239.93 466.0,238.09 469.0,236.25 472.0,234.41 475.0,232.57 478.0,230.73 481.0,228.89 484.0,227.05 487.0,225.20 490.0,223.36 493.0,221.52 496.0,219.68 499.0,217.84 502.0,216.00 505.0,214.16 508.0,212.32 511.0,210.47 514.0,208.63 517.0,206.79 520.0,204.95 523.0,203.11 526.0,201.26 529.0,199.42 532.0,197.58 535.0,195.74 538.0,193.89 541.0,192.05 544.0,190.21 547.0,188.36 550.0,186.52 553.0,184.68 556.0,182.83 559.0,180.99 562.0,179.14 565.0,177.30 568.0,175.45 571.0,173.60 574.0,171.76 577.0,169.91 580.0,168.06 583.0,166.21 586.0,164.36 589.0,162.51 592.0,160.66 595.0,158.81 598.0,156.95 601.0,155.10 604.0,153.24 607.0,151.38 610.0,149.52 613.0,147.66 616.0,145.80 619.0,143.93 622.0,142.07 625.0,140.20 628.0,138.32 631.0,136.45 634.0,134.57 637.0,132.69 640.0,130.80 643.0,128.91 646.0,127.02 649.0,125.12 652.0,123.21 655.0,121.30 658.0,119.39 661.0,117.46 664.0,115.53 667.0,113.59 670.0,111.65 673.0,109.69 676.0,107.72 679.0,105.74 682.0,103.75 685.0,101.74 688.0,99.72 691.0,97.68 694.0,95.62 697.0,93.55 700.0,91.45 703.0,89.33 706.0,87.18 709.0,85.01 712.0,82.80 715.0,80.56 718.0,78.29 721.0,75.98 724.0,73.62 727.0,71.22 730.0,68.76 733.0,66.25 736.0,63.68 739.0,61.05 742.0,58.34 745.0,55.55 748.0,52.67 751.0,49.71 754.0,46.64 757.0,43.45 760.0,40.15 763.0,36.71 766.0,33.13 769.0,29.39 772.0,25.48 772.6,24.67" fill="none" stroke="#999999" stroke-width="5.1" stroke-linejoin="round"/>
</g>
<text x="97.0" y="23.2" font-size="17.8" letter-spacing="0.35" fill="#000" text-anchor="end">1000</text>
<text x="97.0" y="69.3" font-size="17.8" letter-spacing="0.35" fill="#000" text-anchor="end">500</text>
<text x="97.0" y="101.6" font-size="17.8" letter-spacing="0.35" fill="#000" text-anchor="end">300</text>
<text x="97.0" y="175.8" font-size="17.8" letter-spacing="0.35" fill="#000" text-anchor="end">100</text>
<text x="97.0" y="190.4" font-size="17.8" letter-spacing="0.35" fill="#000" text-anchor="end">80</text>
<text x="97.0" y="221.3" font-size="17.8" letter-spacing="0.35" fill="#000" text-anchor="end">50</text>
<text x="97.0" y="254.9" font-size="17.8" letter-spacing="0.35" fill="#000" text-anchor="end">30</text>
<text x="97.0" y="329.2" font-size="17.8" letter-spacing="0.35" fill="#000" text-anchor="end">10</text>
<text x="97.0" y="343.5" font-size="17.8" letter-spacing="0.35" fill="#000" text-anchor="end">8</text>
<text x="97.0" y="374.4" font-size="17.8" letter-spacing="0.35" fill="#000" text-anchor="end">5</text>
<text x="97.0" y="408.0" font-size="17.8" letter-spacing="0.35" fill="#000" text-anchor="end">3</text>
<text x="97.0" y="480.6" font-size="17.8" letter-spacing="0.35" fill="#000" text-anchor="end">1</text>
<text x="351.5" y="654.0" font-size="17.6" fill="#000" text-anchor="middle">0,3</text>
<text x="464.6" y="654.0" font-size="17.6" fill="#000" text-anchor="middle">0,5</text>
<text x="567.8" y="654.0" font-size="17.6" fill="#000" text-anchor="middle">0,8</text>
<text x="617.8" y="654.0" font-size="17.6" fill="#000" text-anchor="middle">1,0</text>
<text x="859.6" y="654.0" font-size="17.6" fill="#000" text-anchor="middle">3,0</text>
<text x="974.0" y="654.0" font-size="17.6" fill="#000" text-anchor="middle">5,0</text>
<text x="538" y="675" font-size="17.2" fill="#000" text-anchor="middle">Gas Load (F-Factor) [Pa^0.5]</text>
<text transform="translate(46.8,329) rotate(-90)" x="0" y="0" font-size="17.5" fill="#000" text-anchor="middle">Specific Pressure Drop [Pa/m]</text>
<rect x="1008.4" y="18.7" width="162.6" height="214.0" fill="#fff" stroke="#2c2c2c" stroke-width="2.4"/>
<text x="1012" y="34.7" font-size="16" font-weight="bold" letter-spacing="0.6" fill="#000" style="stroke-width:0.5px">Liquid Flux</text>
<rect x="1015.3" y="56.50" width="16.6" height="5.0" fill="#ff0000"/>
<text x="1039" y="61.30" font-size="16.8" fill="#000">B=0 m³/m²/h</text>
<rect x="1015.3" y="82.23" width="16.6" height="5.0" fill="#00f000"/>
<text x="1039" y="87.38" font-size="16.8" fill="#000">B=10 m³/m²/h</text>
<rect x="1015.3" y="107.96" width="16.6" height="5.0" fill="#0000ff"/>
<text x="1039" y="113.46" font-size="16.8" fill="#000">B=30 m³/m²/h</text>
<rect x="1015.3" y="133.69" width="16.6" height="5.0" fill="#c000a0"/>
<text x="1039" y="139.54" font-size="16.8" fill="#000">B=50 m³/m²/h</text>
<rect x="1015.3" y="159.42" width="16.6" height="5.0" fill="#c8c800"/>
<text x="1039" y="165.62" font-size="16.8" fill="#000">B=80 m³/m²/h</text>
<rect x="1015.3" y="185.15" width="16.6" height="5.0" fill="#00c8c8"/>
<text x="1039" y="191.70" font-size="16.8" fill="#000">B=120 m³/m²/h</text>
<rect x="1015.3" y="210.88" width="16.6" height="5.0" fill="#999999"/>
<text x="1039" y="217.78" font-size="16.8" fill="#000">B=150 m³/m²/h</text>
</g>
</svg></body></html>
